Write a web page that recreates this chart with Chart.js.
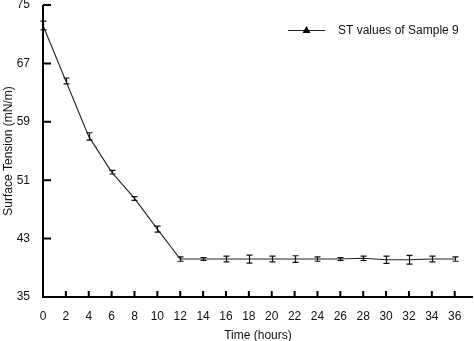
<!DOCTYPE html>
<html>
<head>
<meta charset="utf-8">
<script src="https://cdn.jsdelivr.net/npm/chart.js@4.4.1/dist/chart.umd.min.js"></script>
<style>
  html, body { margin: 0; padding: 0; background: #fff; }
  #wrap { width: 474px; height: 341px; position: relative; }
</style>
</head>
<body>
<div id="wrap"><canvas id="chart"></canvas></div>
<script>
// Surface tension of sample 9 over time, with error bars
const hours = [0, 2, 4, 6, 8, 10, 12, 14, 16, 18, 20, 22, 24, 26, 28, 30, 32, 34, 36];
const stValues = [72.2, 64.6, 57.0, 52.1, 48.5, 44.3, 40.2, 40.2, 40.2, 40.2, 40.2, 40.2, 40.2, 40.2, 40.3, 40.1, 40.1, 40.2, 40.2];
const stErrors = [0.6, 0.4, 0.5, 0.25, 0.25, 0.4, 0.3, 0.2, 0.4, 0.55, 0.4, 0.45, 0.3, 0.2, 0.3, 0.5, 0.6, 0.4, 0.3];
const yTicks = [35, 43, 51, 59, 67, 75];
const xTicks = [0, 2, 4, 6, 8, 10, 12, 14, 16, 18, 20, 22, 24, 26, 28, 30, 32, 34, 36];
const seriesLabel = 'ST values of Sample 9';

const FONT = 'Arial, "Liberation Sans", Helvetica, sans-serif';

// error bars with small caps
const errorBars = {
  id: 'errorBars',
  afterDatasetsDraw(chart) {
    const { ctx, scales: { x, y } } = chart;
    ctx.save();
    ctx.strokeStyle = '#111';
    ctx.lineWidth = 1.2;
    hours.forEach((h, i) => {
      const px = Math.round(x.getPixelForValue(h)) + 0.5;
      const top = y.getPixelForValue(stValues[i] + stErrors[i]);
      const bot = y.getPixelForValue(stValues[i] - stErrors[i]);
      ctx.beginPath();
      ctx.moveTo(px, top); ctx.lineTo(px, bot);
      ctx.moveTo(px - 3, top); ctx.lineTo(px + 3, top);
      ctx.moveTo(px - 3, bot); ctx.lineTo(px + 3, bot);
      ctx.stroke();
    });
    ctx.restore();
  }
};

// axis lines with inward tick marks
const axesFrame = {
  id: 'axesFrame',
  afterDraw(chart) {
    const { ctx, chartArea: a, scales: { x, y } } = chart;
    ctx.save();
    ctx.strokeStyle = '#000';
    ctx.lineWidth = 2;
    ctx.beginPath();
    ctx.moveTo(a.left, a.top);
    ctx.lineTo(a.left, a.bottom);
    ctx.lineTo(a.right, a.bottom);
    ctx.stroke();
    ctx.beginPath();
    yTicks.forEach(v => {
      const py = y.getPixelForValue(v);
      ctx.moveTo(a.left, py); ctx.lineTo(a.left + 8, py);
    });
    xTicks.forEach(v => {
      const px = x.getPixelForValue(v);
      ctx.moveTo(px, a.bottom); ctx.lineTo(px, a.bottom - 6);
    });
    ctx.stroke();

    // legend: short line with a triangle marker, then the label
    const lx1 = 288, lx2 = 325, ly = 30;
    ctx.lineWidth = 1;
    ctx.strokeStyle = '#222';
    ctx.beginPath();
    ctx.moveTo(lx1, ly + 0.5); ctx.lineTo(lx2, ly + 0.5);
    ctx.stroke();
    const cx = (lx1 + lx2) / 2;
    ctx.fillStyle = '#000';
    ctx.beginPath();
    ctx.moveTo(cx, ly - 4);
    ctx.lineTo(cx + 4, ly + 3);
    ctx.lineTo(cx - 4, ly + 3);
    ctx.closePath();
    ctx.fill();
    ctx.font = '12px ' + FONT;
    ctx.textBaseline = 'middle';
    ctx.fillStyle = '#111';
    ctx.fillText(seriesLabel, 338, ly + 1);
    ctx.restore();
  }
};

new Chart(document.getElementById('chart'), {
  type: 'line',
  data: {
    datasets: [{
      label: seriesLabel,
      data: hours.map((h, i) => ({ x: h, y: stValues[i] })),
      borderColor: '#222',
      borderWidth: 1.1,
      pointRadius: 0,
      tension: 0,
      fill: false
    }]
  },
  options: {
    responsive: true,
    maintainAspectRatio: false,
    animation: false,
    layout: { padding: { top: 5, right: 1, left: 0, bottom: 0 } },
    plugins: {
      legend: { display: false },
      tooltip: { enabled: false }
    },
    scales: {
      x: {
        type: 'linear',
        min: 0,
        max: 37.6,
        grid: { display: false, drawTicks: false },
        border: { display: false },
        afterBuildTicks: s => { s.ticks = xTicks.map(v => ({ value: v })); },
        afterFit: s => {
          s.height = 44;
          s.paddingLeft = 0; s.paddingRight = 0;
        },
        ticks: {
          color: '#111',
          font: { family: FONT, size: 12 },
          padding: 12,
          maxRotation: 0,
          autoSkip: false
        },
        title: {
          display: true,
          text: 'Time (hours)',
          color: '#111',
          font: { family: FONT, size: 12 },
          padding: { top: 5, bottom: -2 }
        }
      },
      y: {
        type: 'linear',
        min: 35,
        max: 75,
        grid: { display: false, drawTicks: false },
        border: { display: false },
        afterBuildTicks: s => { s.ticks = yTicks.map(v => ({ value: v })); },
        afterFit: s => {
          s.width = 43;
          s.paddingTop = 0; s.paddingBottom = 0;
        },
        ticks: {
          color: '#111',
          font: { family: FONT, size: 12 },
          padding: 13
        },
        title: {
          display: true,
          text: 'Surface Tension (mN/m)',
          color: '#111',
          font: { family: FONT, size: 12 },
          padding: { top: 1, bottom: 0 }
        }
      }
    }
  },
  plugins: [errorBars, axesFrame]
});
</script>
</body>
</html>
